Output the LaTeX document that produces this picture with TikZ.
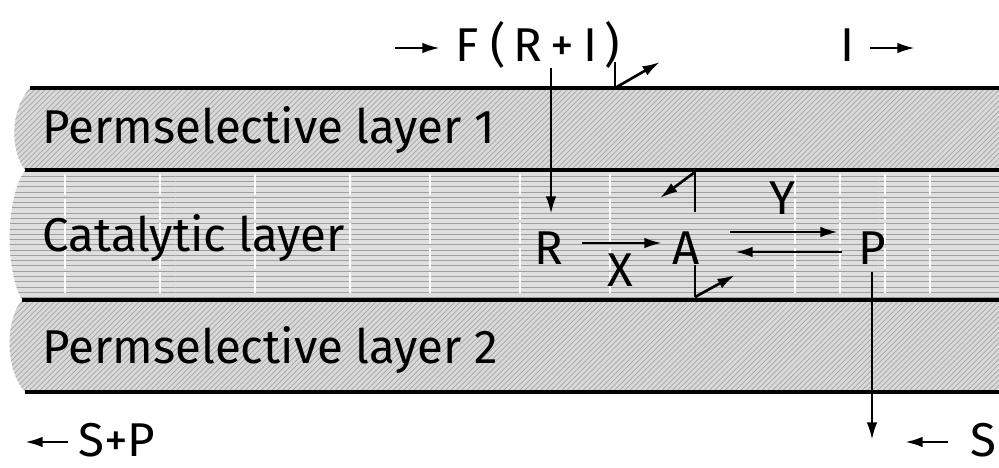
\documentclass[tikz,border=0pt]{standalone}
\usepackage{fontspec}
\setmainfont{Fira Sans}
\usetikzlibrary{patterns,arrows.meta}
\begin{document}
\begin{tikzpicture}[x=0.02cm,y=-0.02cm,
  lbl/.style={font=\fontsize{27}{29}\selectfont,inner sep=0pt},
  arr/.style={line width=1.5pt,-{Latex[length=10pt,width=6pt]}},
  bd/.style={line width=1.8pt}]
\useasboundingbox (0,0) rectangle (999,467);
% layers
\path[fill=gray!30] (30,88) .. controls (10,110) and (10,150) .. (25,170) -- (999,170) -- (999,88) -- cycle;
\path[pattern=north east lines,pattern color=gray!70] (30,88) .. controls (10,110) and (10,150) .. (25,170) -- (999,170) -- (999,88) -- cycle;
\path[fill=gray!25] (25,170) .. controls (5,200) and (5,270) .. (22,300) -- (999,300) -- (999,170) -- cycle;
\path[pattern=horizontal lines,pattern color=gray!75] (25,170) .. controls (5,200) and (5,270) .. (22,300) -- (999,300) -- (999,170) -- cycle;
\foreach \x in {65,160,255,350,430,520,610,795,840,885,930}
  \draw[white,line width=1.3pt,dash pattern=on 12pt off 2pt] (\x,174) -- (\x,296);
\path[fill=gray!30] (22,300) .. controls (5,320) and (5,370) .. (25,392) -- (999,392) -- (999,300) -- cycle;
\path[pattern=north east lines,pattern color=gray!70] (22,300) .. controls (5,320) and (5,370) .. (25,392) -- (999,392) -- (999,300) -- cycle;
\draw[bd] (30,88) -- (999,88);
\draw[bd] (25,170) -- (999,170);
\draw[bd] (22,300) -- (999,300);
\draw[bd] (25,392) -- (999,392);
% labels
\node[lbl,anchor=west] (l1) at (42,130) {Permselective layer 1};
\node[lbl,anchor=west] (lc) at (42,238) {Catalytic layer};
\node[lbl,anchor=west] (l2) at (42,350) {Permselective layer 2};
\node[lbl] (R) at (549,248) {R};
\node[lbl] (A) at (686,248) {A};
\node[lbl] (P) at (872,248) {P};
\node[lbl] (X) at (620,270) {X};
\node[lbl] (Y) at (783,198) {Y};
\node[lbl,anchor=west] (F) at (455,45) {F\hspace{7pt}(\hspace{4pt}R\hspace{5pt}+\hspace{5pt}I\hspace{4pt})};
\node[lbl] (I) at (847,45) {I};
\node[lbl,anchor=west] (SP) at (78,440) {S+P};
\node[lbl,anchor=east] (S) at (997,440) {S};
% arrows
\coordinate (f1) at (395,48); \coordinate (f2) at (440,48);
\draw[arr] (f1) -- (f2);
\coordinate (i1) at (870,48); \coordinate (i2) at (915,48);
\draw[arr] (i1) -- (i2);
\coordinate (s1) at (68,442); \coordinate (s2) at (25,442);
\draw[arr] (s1) -- (s2);
\coordinate (t1) at (948,442); \coordinate (t2) at (905,442);
\draw[arr] (t1) -- (t2);
\coordinate (rt) at (551,68);
\draw[arr] (rt) -- (551,214);
\coordinate (it) at (615,62); \coordinate (ib) at (615,88); \coordinate (ia) at (660,62);
\draw[line width=1.5pt] (it) -- (ib);
\draw[arr] (ib) -- (ia);
\coordinate (ra) at (582,243); \coordinate (rb) at (662,243);
\draw[arr] (ra) -- (rb);
\coordinate (e1) at (730,232); \coordinate (e2) at (838,232);
\draw[arr] (e1) -- (e2);
\coordinate (e3) at (842,252); \coordinate (e4) at (735,252);
\draw[arr] (e3) -- (e4);
\coordinate (at1) at (695,172); \coordinate (at2) at (695,212); \coordinate (aa1) at (660,198);
\draw[line width=1.5pt] (at1) -- (at2);
\draw[arr] (at1) -- (aa1);
\coordinate (ab1) at (695,265); \coordinate (ab2) at (695,297); \coordinate (aa2) at (735,275);
\draw[line width=1.5pt] (ab1) -- (ab2);
\draw[arr] (ab2) -- (aa2);
\coordinate (pb) at (872,440);
\draw[arr] ([yshift=-4pt]P.south) -- (pb);
\end{tikzpicture}
\end{document}
